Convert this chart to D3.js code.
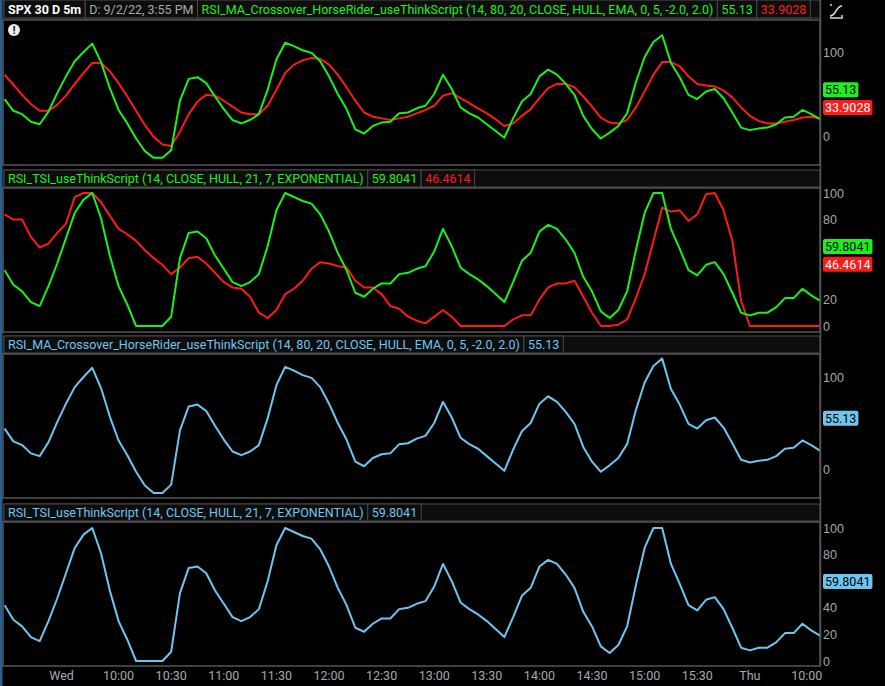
<!DOCTYPE html>
<html>
<head>
<meta charset="utf-8">
<script src="https://cdn.jsdelivr.net/npm/d3@7"></script>
<style>
  body { margin: 0; background: #000; }
  svg { display: block; font-family: "Liberation Sans Narrow", "Arial Narrow", "Roboto", sans-serif; }
</style>
</head>
<body>
<svg id="chart" width="885" height="686"></svg>
<script>
'use strict';

// RSI (green in panel 1, blue in panel 3)
var rsi = [44,30,26,17,14,29,51,71,89,100, 110,88,57,31,15,-3,-18,-26,-26,-17,
  42,68,70,63,47,32,19,15,19,26, 55,91,111,107,102,99,89,71,50,32,
  8,3,12,16,17,27,28,33,36,50, 73,56,34,27,22,14,6,-2,21,41,
  50,71,79,73,62,49,24,8,-3,4, 12,27,64,94,112,120,87,70,49,44,
  53,56,45,28,10,7,9,10,14,22, 23,31,26,20];
// RSI moving average (red in panel 1)
var rsiMa = [73,61,49,38,30,30,37,48,62,75, 87,87,77,63,47,30,13,-1,-10,-12,
  5,26,41,49,48,42,35,28,26,26, 36,55,75,85,90,93,92,85,73,58,
  42,28,23,21,19,21,23,27,31,36, 48,51,45,39,33,27,20,12,15,24,
  32,45,57,62,62,58,47,35,22,16, 15,19,34,53,73,88,88,83,71,62,
  60,59,54,46,34,24,18,15,15,17, 19,22,23,21];
// TSI (green in panel 2, blue in panel 4)
var tsi = [42,31,26,18,15,30,47,66,85,95, 100,81,53,30,16,0,0,0,0,7,
  51,70,71,66,53,43,33,30,33,39, 60,87,100,97,94,92,84,71,55,42,
  25,22,28,32,32,39,40,43,45,56, 73,60,44,39,35,30,24,18,33,49,
  55,71,76,73,65,55,37,26,11,6, 12,26,57,85,100,100,73,58,42,38,
  46,48,39,25,10,8,10,10,14,21, 21,28,23,19];
// TSI signal (red in panel 2)
var tsiSignal = [84,80,80,67,59,62,70,77,97,100, 100,93,83,73,69,64,57,51,46,39,
  44,51,52,47,40,33,29,28,22,10, 6,12,24,28,34,43,48,47,45,44,
  34,29,29,24,15,13,7,4,2,7, 12,7,0,0,0,0,0,0,5,8,
  8,20,29,32,32,34,22,10,0,0, 1,5,21,39,64,89,86,87,79,84,
  99,100,87,64,19,0,0,0,0,0, 0,0,0,0];

var timeTicks = [
  {i: 6.5, label: "Wed"}, {i: 13, label: "10:00"}, {i: 19, label: "10:30"},
  {i: 25, label: "11:00"}, {i: 31, label: "11:30"}, {i: 37, label: "12:00"},
  {i: 43, label: "12:30"}, {i: 49, label: "13:00"}, {i: 55, label: "13:30"},
  {i: 61, label: "14:00"}, {i: 67, label: "14:30"}, {i: 73, label: "15:00"},
  {i: 79, label: "15:30"}, {i: 85, label: "Thu"}, {i: 91.5, label: "10:00"}
];

var GREEN = "#1af01a", RED = "#ff1a1a", BLUE = "#6ec6f0", GRAY = "#a8a8a8";

var svg = d3.select("#chart");
svg.append("rect").attr("width", 885).attr("height", 686).attr("fill", "#000");

var x = d3.scaleLinear().domain([0, 93]).range([4.6, 820]);

var panels = [
  {top: 20, bottom: 165, y100: 52, y0: 136, ticks: [0, 50, 100],
   series: [{data: rsiMa, color: RED}, {data: rsi, color: GREEN}],
   tags: [{v: 55.13, text: "55.13", color: GREEN, fg: "#000"}, {v: 33.9028, text: "33.9028", color: RED, fg: "#fff"}]},
  {top: 188, bottom: 332, y100: 193, y0: 326, ticks: [0, 20, 40, 60, 80, 100],
   header: {y: 170, parts: [{t: "RSI_TSI_useThinkScript (14, CLOSE, HULL, 21, 7, EXPONENTIAL)", c: GREEN}, {t: "59.8041", c: GREEN}, {t: "46.4614", c: RED}]},
   series: [{data: tsiSignal, color: RED}, {data: tsi, color: GREEN}],
   tags: [{v: 59.8041, text: "59.8041", color: GREEN, fg: "#000"}, {v: 46.4614, text: "46.4614", color: RED, fg: "#fff"}]},
  {top: 354, bottom: 498, y100: 377, y0: 469, ticks: [0, 50, 100],
   header: {y: 336, parts: [{t: "RSI_MA_Crossover_HorseRider_useThinkScript (14, 80, 20, CLOSE, HULL, EMA, 0, 5, -2.0, 2.0)", c: BLUE}, {t: "55.13", c: BLUE}]},
   series: [{data: rsi, color: BLUE}],
   tags: [{v: 55.13, text: "55.13", color: BLUE, fg: "#000"}]},
  {top: 522, bottom: 666, y100: 528, y0: 661, ticks: [0, 20, 40, 60, 80, 100],
   header: {y: 504, parts: [{t: "RSI_TSI_useThinkScript (14, CLOSE, HULL, 21, 7, EXPONENTIAL)", c: BLUE}, {t: "59.8041", c: BLUE}]},
   series: [{data: tsi, color: BLUE}],
   tags: [{v: 59.8041, text: "59.8041", color: BLUE, fg: "#000"}]}
];

// header boxes, laid out left to right by measured text width
function drawHeader(y, parts, h) {
  var g = svg.append("g");
  var cx = 4;
  parts.forEach(function(p) {
    var t = g.append("text").attr("x", cx + 4).attr("y", y + h - 4)
      .attr("fill", p.c).attr("font-size", 12.5).attr("font-weight", p.b ? "bold" : "normal").text(p.t);
    var w = t.node().getComputedTextLength() + 8;
    g.insert("rect", "text").attr("x", cx).attr("y", y).attr("width", w).attr("height", h)
      .attr("fill", "#0d0d0d").attr("stroke", "#4a4a4a");
    cx += w;
  });
  g.insert("rect", ":first-child").attr("x", 4).attr("y", y).attr("width", 816).attr("height", h)
    .attr("fill", "#0d0d0d").attr("stroke", "#4a4a4a");
}

drawHeader(0, [
  {t: "SPX 30 D 5m", c: "#fff", b: true},
  {t: "D: 9/2/22, 3:55 PM", c: GRAY},
  {t: "RSI_MA_Crossover_HorseRider_useThinkScript (14, 80, 20, CLOSE, HULL, EMA, 0, 5, -2.0, 2.0)", c: GREEN},
  {t: "55.13", c: GREEN},
  {t: "33.9028", c: RED}
], 18);

panels.forEach(function(p, k) {
  if (p.header) drawHeader(p.header.y, p.header.parts, 17);

  svg.append("rect").attr("x", 3).attr("y", p.top).attr("width", 817).attr("height", p.bottom - p.top)
    .attr("fill", "#000").attr("stroke", "#555").attr("stroke-width", 1.5);

  var y = d3.scaleLinear().domain([0, 100]).range([p.y0, p.y100]);

  var clipId = "clip" + k;
  svg.append("clipPath").attr("id", clipId).append("rect")
    .attr("x", 4).attr("y", p.top + 1).attr("width", 816).attr("height", p.bottom - p.top - 2);

  // tick labels hidden behind a value tag are left out (the tag covers them)
  var shown = p.ticks.filter(function(v) {
    return !p.tags.some(function(t) { return Math.abs(y(t.v) - y(v)) < 13; });
  });
  var axis = d3.axisRight(y).tickValues(shown).tickSize(0).tickPadding(3);
  var ag = svg.append("g").attr("transform", "translate(820,0)").call(axis);
  ag.select(".domain").remove();
  ag.selectAll("text").attr("fill", GRAY).attr("font-size", 12.5).attr("font-family", "inherit");

  var line = d3.line().x(function(d, i) { return x(i); }).y(function(d) { return y(d); });
  p.series.forEach(function(s) {
    svg.append("path").datum(s.data).attr("clip-path", "url(#" + clipId + ")")
      .attr("d", line).attr("fill", "none").attr("stroke", s.color).attr("stroke-width", 2)
      .attr("stroke-linejoin", "round");
  });

  p.tags.forEach(function(t) {
    var ty = y(t.v);
    var g = svg.append("g");
    var tx = g.append("text").attr("x", 825).attr("y", ty + 4.5).attr("fill", t.fg)
      .attr("font-size", 12.5).text(t.text);
    var w = tx.node().getComputedTextLength() + 4;
    g.insert("rect", "text").attr("x", 823).attr("y", ty - 7.5).attr("width", w).attr("height", 15)
      .attr("rx", 2).attr("fill", t.color);
  });
});

// right column separators
svg.append("line").attr("x1", 820.5).attr("x2", 820.5).attr("y1", 0).attr("y2", 666)
  .attr("stroke", "#555").attr("stroke-width", 1.5);
svg.append("rect").attr("x", 0).attr("y", 0).attr("width", 2.5).attr("height", 686).attr("fill", "#2b5f8a");

// time axis
var tg = svg.append("g");
tg.selectAll("text").data(timeTicks).enter().append("text")
  .attr("x", function(d) { return x(d.i); }).attr("y", 680)
  .attr("text-anchor", "middle").attr("fill", GRAY).attr("font-size", 12.5)
  .text(function(d) { return d.label; });

// warning badge
svg.append("circle").attr("cx", 14).attr("cy", 30).attr("r", 6).attr("fill", "#eee");
svg.append("text").attr("x", 14).attr("y", 34).attr("text-anchor", "middle")
  .attr("font-size", 10).attr("font-weight", "bold").attr("fill", "#000").text("!");

// top-right style icon
var ic = svg.append("g").attr("stroke", "#ddd").attr("stroke-width", 1.5).attr("fill", "none");
ic.append("path").attr("d", "M830,16 C836,16 836,6 842,6");
ic.append("path").attr("d", "M830,18 L843,18 M830,5 L832,5 M841,16 L843,16");
</script>
</body>
</html>
